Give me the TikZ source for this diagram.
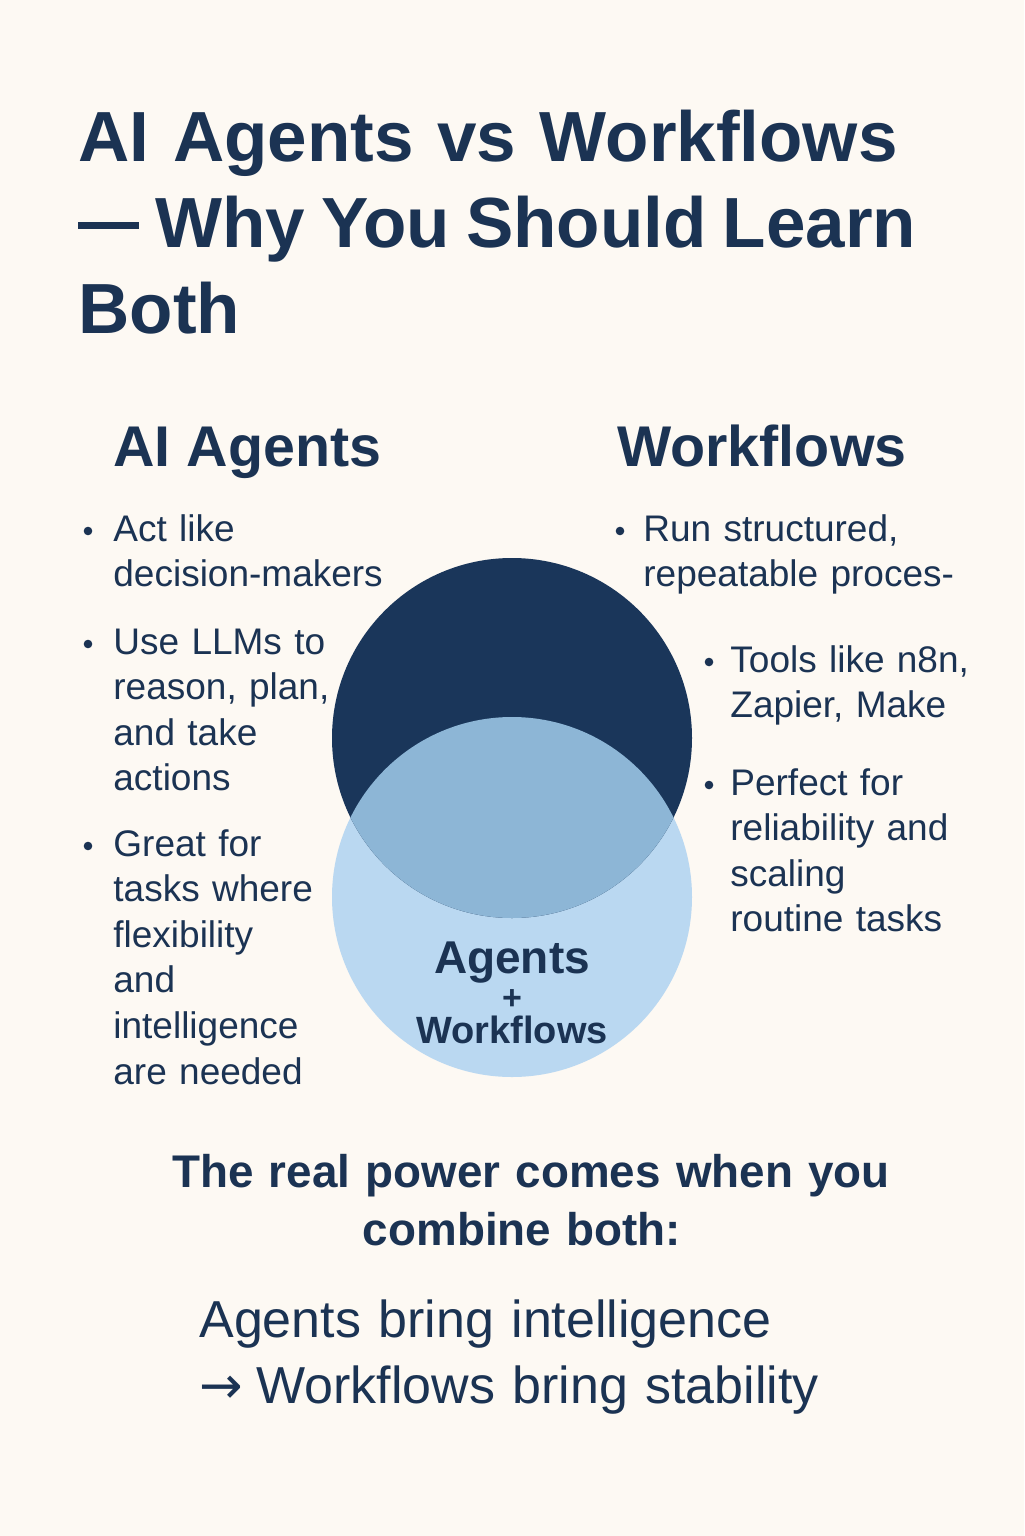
\documentclass[tikz,border=0pt]{standalone}
\usepackage{fontspec}
\setmainfont{Liberation Sans}
\newfontfamily\arrowfont{DejaVu Sans}
\definecolor{bgc}{HTML}{FDF9F3}
\definecolor{navy}{HTML}{1B3353}
\definecolor{darkc}{HTML}{1A365A}
\definecolor{lightc}{HTML}{BAD8F1}
\definecolor{overc}{HTML}{8DB6D6}
\begin{document}
\begin{tikzpicture}[x=0.5pt,y=-0.5pt,
  titlet/.style={anchor=base west, inner sep=0, text=navy, align=left, text width=490pt,
    font=\fontsize{35.5}{42.75}\selectfont\bfseries},
  headt/.style={anchor=base west, inner sep=0, text=navy, font=\fontsize{28.7}{34}\selectfont\bfseries},
  bodyt/.style={anchor=base west, inner sep=0, text=navy, align=left, text width=160pt,
    font=\fontsize{18.5}{22.8}\selectfont},
  dotb/.style={circle, fill=navy, inner sep=0, minimum size=4.3pt},
  venn/.style={anchor=base, inner sep=0, text=navy}
]
\useasboundingbox (0,0) rectangle (1024,1536);
\fill[bgc] (0,0) rectangle (1024,1536);

% title
\node[titlet] (title) at (78,162) {AI Agents vs Workflows\\{\spaceskip=8pt plus 1pt\rule[9.2pt]{30.5pt}{3.6pt} Why You Should Learn}\\Both};

% headings
\node[headt] (hagents) at (113,466) {AI Agents};
\node[headt] (hwork) at (617,466) {Workflows};

% Venn
\fill[lightc] (512,897) circle (180);
\fill[darkc] (512,738) circle (180);
\begin{scope}
  \clip (512,738) circle (180);
  \fill[overc] (512,897) circle (180);
\end{scope}
\node[venn, font=\fontsize{23}{26}\selectfont\bfseries] (vagents) at (512,973) {Agents};
\node[venn, font=\fontsize{17}{18}\selectfont\bfseries] (vplus) at (512,1009) {+};
\node[venn, font=\fontsize{19}{22}\selectfont\bfseries] (vwork) at (512,1043) {Workflows};

% left bullets
\node[dotb] (ld1) at (88,531) {};
\node[bodyt] (lb1) at (113,541) {Act like\\decision-makers};
\node[dotb] (ld2) at (88,644) {};
\node[bodyt] (lb2) at (113,654) {Use LLMs to\\reason, plan,\\and take\\actions};
\node[dotb] (ld3) at (88,846) {};
\node[bodyt] (lb3) at (113,856) {Great for\\tasks where\\flexibility\\and\\intelligence\\are needed};

% right bullets
\node[dotb] (rd1) at (620,531) {};
\node[bodyt] (rb1) at (643,541) {Run structured,\\repeatable proces-};
\node[dotb] (rd2) at (709,662) {};
\node[bodyt] (rb2) at (730,672) {Tools like n8n,\\Zapier, Make};
\node[dotb] (rd3) at (709,785) {};
\node[bodyt] (rb3) at (730,795) {Perfect for\\reliability and\\scaling\\routine tasks};

% bottom
\node[anchor=base, inner sep=0, text=navy, align=center, text width=420pt,
  font=\fontsize{22.9}{29}\selectfont\bfseries] (power) at (531,1187)
  {The real power comes when you\\combine both:\hspace*{9pt}};
\node[anchor=base west, inner sep=0, text=navy, align=left, text width=400pt,
  font=\fontsize{26}{33}\selectfont] (bring) at (199,1337)
  {Agents bring intelligence\\{\arrowfont →}\hspace{-2pt} Workflows bring stability};
\end{tikzpicture}
\end{document}
